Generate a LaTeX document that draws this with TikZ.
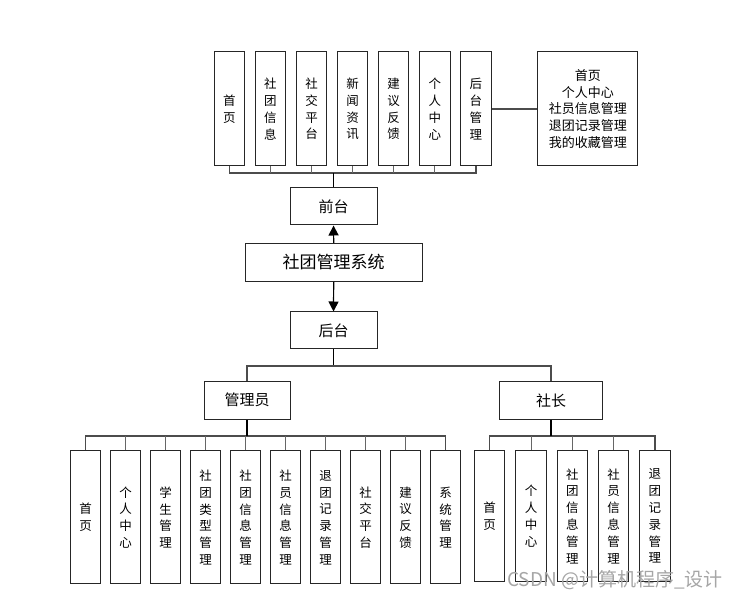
\documentclass[tikz,border=0pt]{standalone}
\usepackage{fontspec}
\setmainfont{Noto Sans CJK SC}
\usetikzlibrary{arrows.meta}
\begin{document}
\begin{tikzpicture}[x=1pt,y=-1pt,
 box/.style={draw=black!85,line width=1pt,fill=white,inner sep=0pt,align=center},
 vbox/.style={box,minimum width=30.5pt,font=\fontsize{12.5}{16.8}\selectfont},
 hbox/.style={box,font=\fontsize{15}{18}\selectfont},
 stub/.style={draw=black!60,line width=0.9pt},
 bus/.style={draw=black!70,line width=1.2pt},
 trunk/.style={draw=black,line width=1.6pt},
 arr/.style={draw=black,line width=1.2pt,-{Triangle[length=10pt,width=10pt]}}
 ]
\useasboundingbox (0,0) rectangle (745,601);
% top row
\foreach \n/\t [count=\i from 0] in {t1/{首\\页},t2/{社\\团\\信\\息},t3/{社\\交\\平\\台},t4/{新\\闻\\资\\讯},t5/{建\\议\\反\\馈},t6/{个\\人\\中\\心},t7/{后\\台\\管\\理}}
  \node[vbox,minimum height=114pt] (\n) at ({229.3+41.1*\i},109) {\t};
\node[box,minimum width=100pt,minimum height=114pt,font=\fontsize{13}{16.8}\selectfont] (tr) at (587.9,109)
  {首页\\个人中心\\社员信息管理\\退团记录管理\\我的收藏管理};
% middle
\node[hbox,minimum width=87pt,minimum height=37pt] (qt) at (333.5,206.5) {前台};
\node[hbox,minimum width=177pt,minimum height=38pt,font=\fontsize{17}{18}\selectfont] (sys) at (333.7,262.3) {社团管理系统};
\node[hbox,minimum width=87pt,minimum height=37pt] (ht) at (333.5,330.5) {后台};
\node[hbox,minimum width=86pt,minimum height=38pt] (gly) at (247,400.3) {管理员};
\node[hbox,minimum width=103pt,minimum height=38pt] (sz) at (551,400.3) {社长};
% admin children
\foreach \n/\t [count=\i from 0] in {a1/{首\\页},a2/{个\\人\\中\\心},a3/{学\\生\\管\\理},a4/{社\\团\\类\\型\\管\\理},a5/{社\\团\\信\\息\\管\\理},a6/{社\\员\\信\\息\\管\\理},a7/{退\\团\\记\\录\\管\\理},a8/{社\\交\\平\\台},a9/{建\\议\\反\\馈},a10/{系\\统\\管\\理}}
  \node[vbox,minimum height=133pt] (\n) at ({85.7+40*\i},517.5) {\t};
% shezhang children
\foreach \n/\t [count=\i from 0] in {s1/{首\\页},s2/{个\\人\\中\\心},s3/{社\\团\\信\\息\\管\\理},s4/{社\\员\\信\\息\\管\\理},s5/{退\\团\\记\\录\\管\\理}}
  \node[vbox,minimum height=131pt] (\n) at ({489.7+41.3*\i},516.2) {\t};
% watermark
\node[text=black!35,font=\fontsize{19}{19}\selectfont,anchor=west,inner sep=0pt] (wm) at (507,580) {CSDN @计算机程序\_设计};

% top bus
\coordinate (tb) at (333.7,173);
\draw[bus] (t1.south) |- (tb) -| (t7.south);
\foreach \n in {t2,t3,t4,t5,t6} \draw[stub] (\n.south) -- (\n.south |- tb);
\draw[trunk] (qt.north) -- (qt.north |- tb);
\draw[bus] (t7.east) -- (tr.west);
% arrows
\draw[arr] (sys.north) -- (qt.south);
\draw[arr] (sys.south) -- (ht.north);
% houtai split
\coordinate (hb) at (333.5,366);
\draw[line width=1pt] (ht.south) -- (hb);
\draw[bus] (gly.north) |- (hb) -| (sz.north);
% admin bus
\coordinate (gb) at (247,436);
\draw[bus] (a1.north) |- (gb) -| (a10.north);
\foreach \n in {a2,a3,a4,a5,a6,a7,a8,a9} \draw[stub] (\n.north) -- (\n.north |- gb);
\draw[trunk] (gly.south) -- (gb);
% shezhang bus
\coordinate (sb) at (551,436);
\draw[bus] (s1.north) |- (sb) -| (s5.north);
\foreach \n in {s2,s3,s4} \draw[stub] (\n.north) -- (\n.north |- sb);
\draw[trunk] (sz.south) -- (sb);
\end{tikzpicture}
\end{document}
